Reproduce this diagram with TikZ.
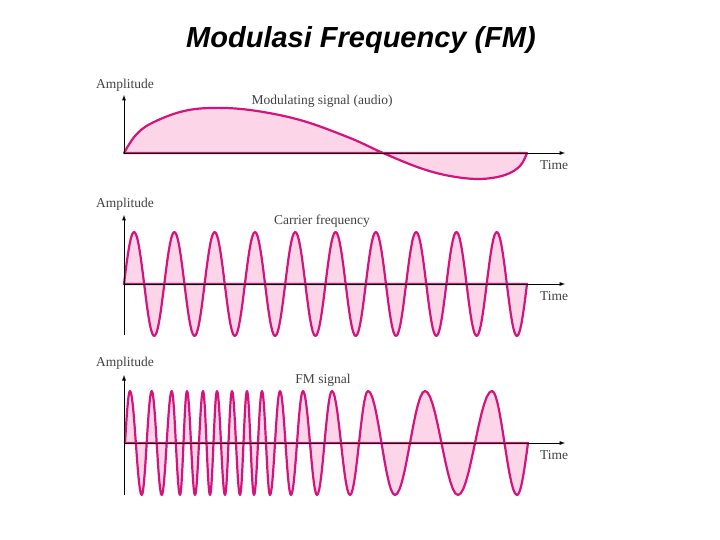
\documentclass[tikz,border=0pt]{standalone}
\usepackage{fontspec}
\setmainfont{Liberation Serif}
\setsansfont{Liberation Sans}
\begin{document}
\begin{tikzpicture}[x=1pt,y=-1pt,
  sig/.style={draw=sigc,line width=2.2pt,fill=fillc,line join=round},
  ax/.style={draw=black,line width=0.9pt,-latex},
  lab/.style={font=\fontsize{13.5}{15}\selectfont,inner sep=0pt,text=black!75}]
\definecolor{sigc}{HTML}{D4137C}
\definecolor{fillc}{HTML}{FCD6E8}
\useasboundingbox (0,0) rectangle (720,540);
\node[font=\sffamily\bfseries\itshape\fontsize{29}{31}\selectfont] (title) at (361,40) {Modulasi Frequency (FM)};
% panel 1
\path[sig] plot[smooth,tension=0.6] coordinates {(124,153) (135,136) (150,124) (180,112) (210,108) (250,110) (300,120) (350,138) (383,153) (420,168) (450,176) (480,179) (505,175) (520,166) (527,153)} -- cycle;
\coordinate (o1) at (124,153);
\draw[ax] (o1) -- (124,95);
\draw[ax] (o1) -- (565,153);
\node[lab,anchor=west] (amp1) at (96,85) {Amplitude};
\node[lab] (mod) at (322,101) {Modulating signal (audio)};
\node[lab,anchor=west] (t1) at (540,165) {Time};
% panel 2
\path[sig] plot[domain=124:527,samples=300] (\x,{284-52*sin((\x-124)/40.3*360)}) -- cycle;
\coordinate (o2) at (124,284);
\draw[ax] (124,335) -- (124,215);
\draw[ax] (o2) -- (565,284);
\node[lab,anchor=west] (amp2) at (96,204) {Amplitude};
\node[lab] (car) at (322,221) {Carrier frequency};
\node[lab,anchor=west] (t2) at (540,296) {Time};
% panel 3
\path[sig] (125,443) -- plot[domain=125:130,samples=8] (\x,{443-52*sin(90*(\x-125)/5)})
 \foreach \a/\b/\s in {130/141.7/1,141.7/151.7/-1,151.7/161.7/1,161.7/171.7/-1,171.7/180/1,180/187/-1,187/195/1,195/203/-1,203/210/1,210/217/-1,217/225/1,225/232/-1,232/240/1,240/247/-1,247/254/1,254/262/-1,262/270/1,270/280/-1,280/291/1,291/303/-1,303/317/1,317/332/-1,332/350/1,350/368/-1,368/395/1,395/425/-1,425/458/1,458/492/-1,492/517/1}
 { -- plot[domain=\a:\b,samples=14] (\x,{443-\s*52*cos(180*(\x-\a)/(\b-\a))}) }
 -- plot[domain=517:528,samples=10] (\x,{443+52*cos(90*(\x-517)/11)}) -- cycle;
\coordinate (o3) at (124,443);
\draw[ax] (124,495) -- (124,375);
\draw[ax] (o3) -- (565,443);
\node[lab,anchor=west] (amp3) at (96,363) {Amplitude};
\node[lab] (fm) at (323,380) {FM signal};
\node[lab,anchor=west] (t3) at (540,455) {Time};
\end{tikzpicture}
\end{document}
